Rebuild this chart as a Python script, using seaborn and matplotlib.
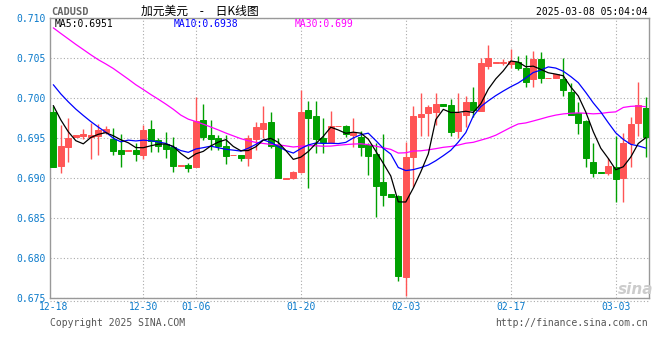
import numpy as np
import pandas as pd
import seaborn as sns
import matplotlib.pyplot as plt
from matplotlib.lines import Line2D

# daily candles, weekends included (sina forex style)
dates = pd.date_range('2024-12-18', '2025-03-07', freq='D')

open_ = [0.69833, 0.69154, 0.69396, 0.69513, 0.69533, 0.69513, 0.69529, 0.69583, 0.69488, 0.69354,
         0.69346, 0.69354, 0.69292, 0.69613, 0.69479, 0.69425, 0.69388, 0.69154, 0.69167, 0.69146,
         0.69729, 0.69542, 0.69500, 0.69404, 0.69292, 0.69292, 0.69258, 0.69488, 0.69613, 0.69708,
         0.69417, 0.68996, 0.69000, 0.69083, 0.69852, 0.69779, 0.69508, 0.69458, 0.69654, 0.69654,
         0.69546, 0.69521, 0.69417, 0.69304, 0.68950, 0.68804, 0.68779, 0.67770, 0.69271, 0.69771,
         0.69821, 0.69833, 0.69929, 0.69917, 0.69596, 0.69792, 0.69958, 0.69846, 0.70404, 0.70446,
         0.70446, 0.70425, 0.70458, 0.70383, 0.70238, 0.70492, 0.70250, 0.70258, 0.70238, 0.70083,
         0.69820, 0.69721, 0.69208, 0.69075, 0.69063, 0.69146, 0.69000, 0.69446, 0.69696, 0.69875]
close = [0.69146, 0.69404, 0.69508, 0.69542, 0.69554, 0.69542, 0.69604, 0.69612, 0.69346, 0.69304,
         0.69354, 0.69304, 0.69604, 0.69467, 0.69404, 0.69367, 0.69154, 0.69163, 0.69125, 0.69721,
         0.69521, 0.69492, 0.69404, 0.69279, 0.69296, 0.69250, 0.69508, 0.69638, 0.69696, 0.69404,
         0.69000, 0.69000, 0.69083, 0.69833, 0.69758, 0.69492, 0.69458, 0.69654, 0.69658, 0.69550,
         0.69563, 0.69396, 0.69279, 0.68908, 0.68791, 0.68770, 0.67779, 0.69270, 0.69779, 0.69804,
         0.69888, 0.69929, 0.69908, 0.69583, 0.69813, 0.69958, 0.69854, 0.70446, 0.70500, 0.70458,
         0.70458, 0.70467, 0.70383, 0.70208, 0.70492, 0.70258, 0.70254, 0.70300, 0.70104, 0.69792,
         0.69696, 0.69250, 0.69071, 0.69071, 0.69154, 0.68988, 0.69438, 0.69679, 0.69917, 0.69513]
high = [0.69904, 0.69667, 0.69750, 0.69542, 0.69612, 0.69688, 0.69680, 0.69654, 0.69625, 0.69554,
        0.69354, 0.69438, 0.69667, 0.69730, 0.69500, 0.69583, 0.69513, 0.69163, 0.69196, 0.70020,
        0.69930, 0.69729, 0.69542, 0.69542, 0.69296, 0.69292, 0.69542, 0.69708, 0.69904, 0.69833,
        0.69500, 0.69000, 0.69096, 0.70104, 0.69970, 0.69967, 0.69750, 0.69842, 0.69658, 0.69667,
        0.69750, 0.69596, 0.69446, 0.69446, 0.69554, 0.68808, 0.68790, 0.69458, 0.69904, 0.70071,
        0.69917, 0.70063, 0.69930, 0.69988, 0.70063, 0.70029, 0.70138, 0.70500, 0.70667, 0.70460,
        0.70488, 0.70617, 0.70533, 0.70542, 0.70592, 0.70575, 0.70254, 0.70300, 0.70500, 0.70188,
        0.69958, 0.69730, 0.69438, 0.69075, 0.69250, 0.69529, 0.69571, 0.69763, 0.70208, 0.70021]
low = [0.69146, 0.69071, 0.69208, 0.69513, 0.69488, 0.69238, 0.69292, 0.69554, 0.69292, 0.69146,
       0.69346, 0.69221, 0.69238, 0.69333, 0.69333, 0.69250, 0.69083, 0.69154, 0.69083, 0.69140,
       0.69479, 0.69354, 0.69354, 0.69179, 0.69292, 0.69221, 0.69154, 0.69354, 0.69500, 0.69375,
       0.69000, 0.68996, 0.68988, 0.69063, 0.68875, 0.69321, 0.69321, 0.69450, 0.69654, 0.69520,
       0.69396, 0.69279, 0.69042, 0.68520, 0.68658, 0.68767, 0.67720, 0.67529, 0.68896, 0.69529,
       0.69529, 0.69667, 0.69900, 0.69529, 0.69500, 0.69638, 0.69771, 0.69840, 0.70363, 0.70440,
       0.70417, 0.70375, 0.70354, 0.70146, 0.70146, 0.70188, 0.70250, 0.70258, 0.70030, 0.69790,
       0.69554, 0.69146, 0.69021, 0.69071, 0.69042, 0.68708, 0.68708, 0.69146, 0.69530, 0.69263]

# closes of the 29 days before 12-18, only used to feed the moving averages
prev_close = [0.7150, 0.7155, 0.7160, 0.7150, 0.7150, 0.7145, 0.7120, 0.7105, 0.7130, 0.7135,
              0.7140, 0.7140, 0.7135, 0.7115, 0.7120, 0.7110, 0.7135, 0.7065, 0.7060, 0.7052,
              0.7055, 0.7050, 0.7045, 0.7035, 0.7030, 0.7030, 0.7025, 0.7010, 0.6975]

tick_labels = ['12-18', '12-30', '01-06', '01-20', '02-03', '02-17', '03-03']
y_ticks = [0.675, 0.680, 0.685, 0.690, 0.695, 0.700, 0.705, 0.710]

df = pd.DataFrame({'date': dates, 'open': open_, 'high': high, 'low': low, 'close': close})
df['i'] = np.arange(len(df))
full = pd.Series(prev_close + close)
for n in (5, 10, 30):
    df[f'ma{n}'] = full.rolling(n).mean().iloc[len(prev_close):].values

sns.set_theme(style='white')
plt.rcParams['font.family'] = ['DejaVu Sans Mono', 'DejaVu Sans']

W, H = 660, 360
fig = plt.figure(figsize=(W / 100, H / 100), dpi=100)
ax = fig.add_axes([50 / W, 1 - 298.3 / H, 599 / W, 280 / H])

up = df['close'] >= df['open']
colors = np.where(up, '#ff5555', '#00a000')
ax.vlines(df['i'], df['low'], df['high'], colors=colors, lw=1, zorder=2)
body_low = np.minimum(df['open'], df['close'])
body_h = (df['close'] - df['open']).abs()
ax.bar(df['i'], body_h, bottom=body_low, width=0.8, color=colors,
       edgecolor=colors, linewidth=0.7, zorder=3)

sns.lineplot(data=df, x='i', y='ma30', color='#ff00ff', lw=0.9, ax=ax, zorder=4)
sns.lineplot(data=df, x='i', y='ma10', color='#0000ff', lw=0.9, ax=ax, zorder=4)
sns.lineplot(data=df, x='i', y='ma5', color='black', lw=0.9, ax=ax, zorder=4)

ax.set_xlim(-0.44, 79.43)
ax.set_ylim(0.675, 0.710)
ax.set_yticks(y_ticks)
ax.set_yticklabels([f'{v:.3f}' for v in y_ticks])
labels = list(df['date'].dt.strftime('%m-%d'))
ax.set_xticks([labels.index(t) for t in tick_labels])
ax.set_xticklabels(tick_labels)
ax.set_xlabel('')
ax.set_ylabel('')
ax.tick_params(length=0, labelsize=7, colors='#0a7acb', pad=3)
ax.grid(True, color='#aaaaaa', linestyle=(0, (1, 2)), lw=0.8)
ax.xaxis.get_gridlines()[0].set_visible(False)
for s in ax.spines.values():
    s.set_color('#999999')
    s.set_linewidth(1)


def px(x, y):
    return x / W, 1 - y / H


fig.add_artist(Line2D([50 / W, 650 / W], [1 - 300.7 / H] * 2, color='#aaaaaa',
                      lw=0.8, linestyle=(0, (1, 2))))

fig.text(*px(51, 12), 'CADUSD', fontsize=7.5, color='#666666', fontweight='bold', va='center')
fig.text(*px(200, 11), '加元美元\u3000-\u3000日K线图', fontsize=8.5, color='black', ha='center',
         va='center', family=['Noto Sans CJK SC', 'DejaVu Sans'])
fig.text(*px(648, 12), '2025-03-08 05:04:04', fontsize=7, color='black', ha='right', va='center')

fig.text(*px(55, 24), f"MA5:{df['ma5'].iloc[-1]:.4f}", fontsize=7, color='black', va='center')
fig.text(*px(174, 24), f"MA10:{df['ma10'].iloc[-1]:.4f}", fontsize=7, color='#0000ff', va='center')
fig.text(*px(295, 24), f"MA30:{df['ma30'].iloc[-1]:.3f}", fontsize=7, color='#ff00ff', va='center')

fig.text(*px(618, 289), 'sina', fontsize=11, color='#cccccc', fontstyle='italic',
         fontweight='bold', family='DejaVu Sans', va='center', ha='left')

fig.text(*px(50, 323.5), 'Copyright 2025 SINA.COM', fontsize=7, color='#555555', va='center')
fig.text(*px(648, 323.5), 'http://finance.sina.com.cn', fontsize=7, color='#555555',
         va='center', ha='right')

fig.savefig('out.png', dpi=100)
